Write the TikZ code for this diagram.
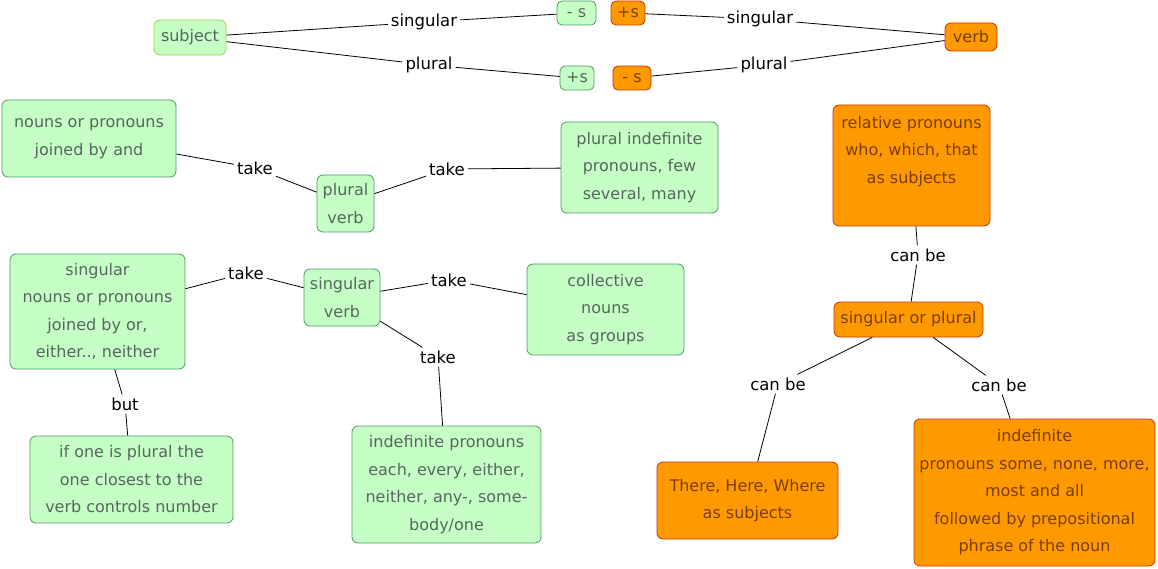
\documentclass[tikz,border=0pt]{standalone}
\usepackage{fontspec}
\setmainfont{DejaVu Sans}
\usepackage{tikz}
\usetikzlibrary{positioning}
\definecolor{greenfill}{HTML}{C6FFC6}
\definecolor{greenline}{HTML}{4C9A64}
\definecolor{limeline}{HTML}{A6D23C}
\definecolor{greentext}{HTML}{56685C}
\definecolor{orangefill}{HTML}{FF9900}
\definecolor{orangeline}{HTML}{CC3300}
\definecolor{orangetext}{HTML}{7A3E00}

\begin{document}
\begin{tikzpicture}[x=1pt,y=-1pt,
  box/.style={rounded corners=6pt,line width=0.8pt,align=center,inner sep=2pt,
    font={\fontsize{16}{27.5}\selectfont}},
  greenbox/.style={box,draw=greenline,fill=greenfill,text=greentext},
  orangebox/.style={box,draw=orangeline,fill=orangefill,text=orangetext},
  lbl/.style={font={\fontsize{16.5}{18}\selectfont},text=black,inner sep=3pt},
  link/.style={draw=black,line width=0.8pt}]
\useasboundingbox (0,0) rectangle (1158,569);

\node[greenbox,draw=limeline,minimum width=72,minimum height=35] (subject) at (190,37.5) {subject};
\node[greenbox,minimum width=39,minimum height=24,rounded corners=5pt] (gminus) at (576.5,13) {- s};
\node[orangebox,minimum width=34,minimum height=24,rounded corners=5pt] (oplus) at (628,13) {+s};
\node[orangebox,minimum width=52,minimum height=28] (verb) at (971,37) {verb};
\node[greenbox,minimum width=34,minimum height=24,rounded corners=5pt] (gplus) at (577,78) {+s};
\node[orangebox,minimum width=38,minimum height=24,rounded corners=5pt] (ominus) at (632,78) {- s};
\node[lbl] (lsing1) at (424,22) {singular};
\node[lbl] (lplur1) at (429,65) {plural};
\node[lbl] (lsing2) at (760,19) {singular};
\node[lbl] (lplur2) at (764,65) {plural};

\node[greenbox,minimum width=174,minimum height=77] (andnouns) at (89,138.5) {nouns or pronouns\\ joined by and};
\node[greenbox,minimum width=57,minimum height=57] (pverb) at (345.5,203.5) {plural\\ verb};
\node[greenbox,minimum width=157,minimum height=91] (pindef) at (639.5,167.5) {plural indefinite\\ pronouns, few\\ several, many};
\node[lbl] (ltake1) at (255,168) {take};
\node[lbl] (ltake2) at (447,169) {take};

\node[orangebox,minimum width=157,minimum height=121] (relpron) at (911.5,165.5) {relative pronouns\\ who, which, that\\ as subjects\\[4pt] \mbox{}};
\node[orangebox,minimum width=149,minimum height=35] (singplur) at (908.5,319.5) {singular or plural};
\node[orangebox,minimum width=181,minimum height=77] (there) at (747.5,500.5) {There, Here, Where\\ as subjects};
\node[orangebox,minimum width=241,minimum height=147] (indefall) at (1034.5,492.5) {indefinite\\ pronouns some, none, more,\\ most and all\\ followed by prepositional\\ phrase of the noun};
\node[lbl] (lcan1) at (918,255) {can be};
\node[lbl] (lcan2) at (778,384) {can be};
\node[lbl] (lcan3) at (999,385) {can be};

\node[greenbox,minimum width=175,minimum height=115] (ornouns) at (97.5,311.5) {singular\\ nouns or pronouns\\ joined by or,\\ either.., neither};
\node[greenbox,minimum width=76,minimum height=57] (sverb) at (342,297.5) {singular\\ verb};
\node[greenbox,minimum width=157,minimum height=91] (collect) at (605.5,309.5) {collective\\ nouns\\ as groups};
\node[greenbox,minimum width=189,minimum height=117] (indef) at (446.5,484.5) {indefinite pronouns\\ each, every, either,\\ neither, any-, some-\\ body/one};
\node[greenbox,minimum width=203,minimum height=87] (ifone) at (131.5,479.5) {if one is plural the\\ one closest to the\\ verb controls number};
\node[lbl] (ltake3) at (246,273) {take};
\node[lbl] (ltake4) at (449,280) {take};
\node[lbl] (ltake5) at (438,357) {take};
\node[lbl] (lbut) at (125,404) {but};

\draw[link] (subject) -- (lsing1) -- (gminus);
\draw[link] (subject) -- (lplur1) -- (gplus);
\draw[link] (oplus) -- (lsing2) -- (verb);
\draw[link] (ominus) -- (lplur2) -- (verb);
\draw[link] (andnouns) -- (ltake1) -- (pverb);
\draw[link] (pverb) -- (ltake2) -- (pindef);
\draw[link] (relpron) -- (lcan1) -- (singplur);
\draw[link] (singplur) -- (lcan2) -- (there);
\draw[link] (singplur) -- (lcan3) -- (indefall);
\draw[link] (ornouns) -- (ltake3) -- (sverb);
\draw[link] (sverb) -- (ltake4) -- (collect);
\draw[link] (sverb) -- (ltake5) -- (indef);
\draw[link] (ornouns) -- (lbut) -- (ifone);
\end{tikzpicture}
\end{document}
